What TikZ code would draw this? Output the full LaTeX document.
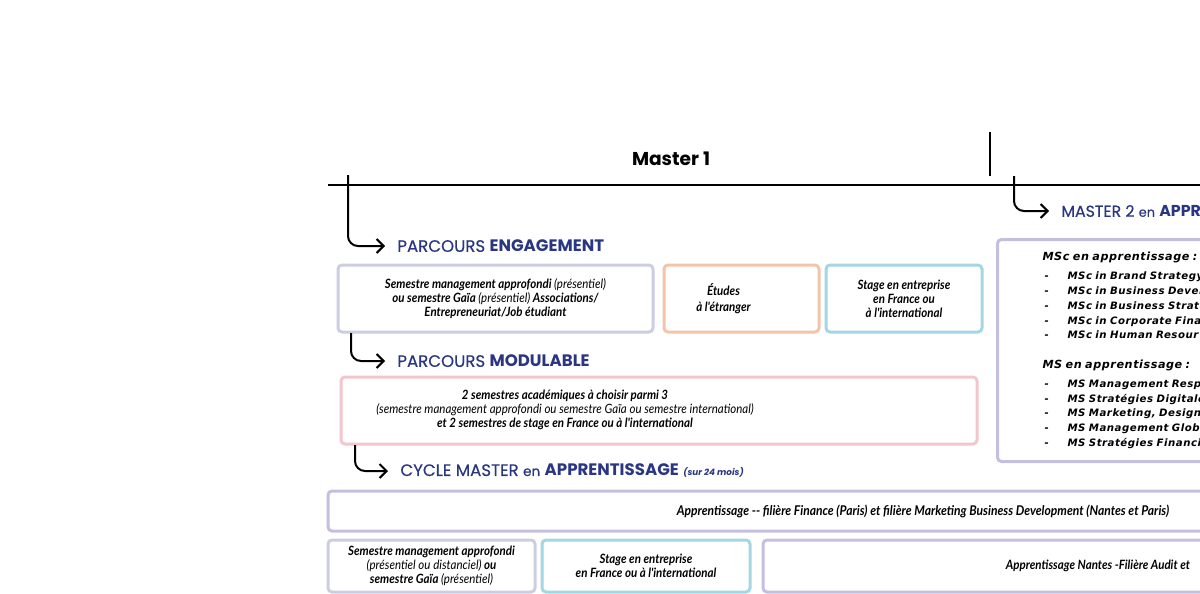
\documentclass[tikz,border=0pt]{standalone}
\usepackage{fontspec}
\usetikzlibrary{arrows.meta}
\newfontfamily\titlefont[UprightFeatures={FakeBold=0.4}]{Poppins}
\newfontfamily\boxfont[FakeStretch=0.9, BoldFeatures={FakeBold=0.9}]{Lato}
\newfontfamily\listfont[LetterSpace=5]{DejaVu Sans}
\definecolor{navy}{RGB}{42,54,130}
\definecolor{lavanda}{RGB}{204,204,226}
\definecolor{pesca}{RGB}{244,196,170}
\definecolor{ciano}{RGB}{164,214,228}
\definecolor{rosa}{RGB}{243,198,205}
\definecolor{viola}{RGB}{198,190,224}
\newcommand{\trattino}{\hspace*{1pt}\makebox[11.5pt][l]{-}}
\begin{document}
\begin{tikzpicture}[x=0.5pt,y=-0.5pt]
    % Definizione stili
    \tikzstyle{heading}=[anchor=west, inner sep=0pt, text=navy, font=\titlefont\fontsize{8.3}{9}\selectfont]
    \tikzstyle{box}=[draw, line width=1.5pt, rounded corners=2pt, align=center, inner sep=0pt, font=\boxfont\bfseries\itshape\fontsize{6.4}{7}\selectfont]
    \tikzstyle{lavbox}=[box, draw=lavanda]
    \tikzstyle{peachbox}=[box, draw=pesca]
    \tikzstyle{cyanbox}=[box, draw=ciano]
    \tikzstyle{pinkbox}=[box, draw=rosa]
    \tikzstyle{purplebox}=[box, draw=viola]
    \tikzstyle{pathbend}=[line width=1pt, rounded corners=5pt, shorten >=6pt, -{Straight Barb[length=3.5pt,width=7pt]}]

    \useasboundingbox (0,0) rectangle (1200,594);
    \clip (0,0) rectangle (1200,594);

    % Linea del tempo
    \node[font=\titlefont\bfseries\fontsize{9.3}{11}\selectfont] (master1) at (671,159) {Master 1};
    \coordinate (lineL) at (328,185);
    \coordinate (lineR) at (1200,185);
    \coordinate (tickT) at (990,132);
    \coordinate (tickB) at (990,176);
    \draw[line width=1pt] (lineL) -- (lineR);
    \draw[line width=1pt] (tickT) -- (tickB);

    % Parcours engagement
    \node[heading] (headEng) at (397,246) {PARCOURS \textbf{ENGAGEMENT}};
    \node[lavbox, minimum width=157.5pt, minimum height=33.5pt] (semEng) at (495.5,298.5)
        {Semestre management approfondi {\mdseries(présentiel)}\\ou semestre Gaïa {\mdseries(présentiel)} Associations/\\Entrepreneuriat/Job étudiant};
    \node[peachbox, minimum width=77.5pt, minimum height=33.5pt] (etudes) at (741.5,298.5)
        {\shortstack{Études\\à l'étranger}\hspace{18pt}};
    \node[cyanbox, minimum width=78pt, minimum height=33.5pt] (stageEng) at (904,298.5)
        {Stage en entreprise\\en France ou\\à l'international};

    % Parcours modulable
    \node[heading] (headMod) at (397,361) {PARCOURS \textbf{MODULABLE}};
    \node[pinkbox, minimum width=318pt, minimum height=33.5pt] (semMod) at (659,410.5)
        {\begin{tabular}{@{}c@{}}2 semestres académiques à choisir parmi 3\\{\mdseries(semestre management approfondi ou semestre Gaïa ou semestre international)}\\et 2 semestres de stage en France ou à l'international\end{tabular}\hspace{94pt}};

    % Cycle master en apprentissage
    \node[heading] (headCycle) at (400,471)
        {CYCLE MASTER {\fontsize{6.8}{8}\selectfont en} \textbf{APPRENTISSAGE} {\fontsize{4.4}{5}\selectfont\bfseries\itshape(sur 24 mois)}};
    \node[purplebox, minimum width=595pt, minimum height=20pt, font=\boxfont\bfseries\itshape\fontsize{6.7}{7}\selectfont] (appFin) at (923,511)
        {Apprentissage -- filière Finance (Paris) et filière Marketing Business Development (Nantes et Paris)};
    \node[lavbox, minimum width=103.5pt, minimum height=26pt] (semCycle) at (431.5,566)
        {Semestre management approfondi\\{\mdseries(présentiel ou distanciel)} ou\\semestre Gaïa {\mdseries(présentiel)}};
    \node[cyanbox, minimum width=104pt, minimum height=26pt] (stageCycle) at (646,566)
        {Stage en entreprise\\en France ou à l'international};
    \node[purplebox, minimum width=420pt, minimum height=26pt] (appNantes) at (1183,566)
        {Apprentissage Nantes -Filière Audit et\hspace{85pt}};

    % Master 2 en apprentissage
    \node[heading, font=\titlefont\fontsize{7.9}{9}\selectfont] (headM2) at (1061,211) {MASTER 2 {\fontsize{6.5}{8}\selectfont en} \textbf{APPR}};
    \node[purplebox, anchor=north west, align=left, text width=300pt, inner xsep=22.5pt,
          minimum height=111pt, font=\listfont\bfseries\itshape\fontsize{5.1}{7.4}\selectfont] (listM2) at (996,238)
        {{\fontsize{5.6}{7.4}\selectfont MSc en apprentissage :}\\[2pt]
         \trattino MSc in Brand Strategy\\
         \trattino MSc in Business Devel\\
         \trattino MSc in Business Strate\\
         \trattino MSc in Corporate Finan\\
         \trattino MSc in Human Resour\\[7.4pt]
         {\fontsize{5.6}{7.4}\selectfont MS en apprentissage :}\\[2pt]
         \trattino MS Management Resp\\
         \trattino MS Stratégies Digitale\\
         \trattino MS Marketing, Design\\
         \trattino MS Management Glob\\
         \trattino MS Stratégies Financiè};

    % Frecce dei percorsi
    \coordinate (startEng) at (348,175);
    \coordinate (startMod) at (351,333);
    \coordinate (startCycle) at (355,445);
    \coordinate (startM2) at (1014,176);
    \draw[pathbend] (startEng) |- (headEng.west);
    \draw[pathbend] (startMod) |- (headMod.west);
    \draw[pathbend] (startCycle) |- (headCycle.west);
    \draw[pathbend] (startM2) |- (headM2.west);
\end{tikzpicture}
\end{document}
